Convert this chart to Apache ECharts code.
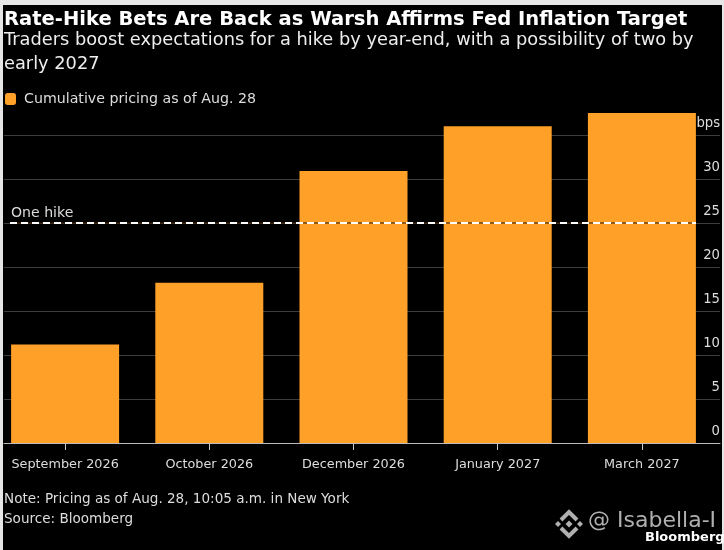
<!DOCTYPE html>
<html><head><meta charset="utf-8">
<style>html,body{margin:0;padding:0;background:#000}#c{width:724px;height:550px}</style>
<script src="https://cdn.jsdelivr.net/npm/echarts@6/dist/echarts.min.js"></script>
</head><body><div id="c"></div>
<script>
const categories = ["September 2026","October 2026","December 2026","January 2027","March 2027"];
const pricing = [11.2,18.2,30.9,36,37.5];
const oneHike = 25;
const yTicks = {0:"0",5:"5",10:"10",15:"15",20:"20",25:"25",30:"30",35:"bps"};
const title = "Rate-Hike Bets Are Back as Warsh Affirms Fed Inflation Target";
const subtitle = "Traders boost expectations for a hike by year-end, with a possibility of two by\nearly 2027";
const seriesName = "Cumulative pricing as of Aug. 28";
const note = "Note: Pricing as of Aug. 28, 10:05 a.m. in New York\nSource: Bloomberg";
const watermark = "@ Isabella-I";
const brand = "Bloomberg";
const font = "'DejaVu Sans'";
const logoGray = '#b0b0b0';
const diamond = (cx,cy,r)=>({type:'polygon',shape:{points:[[cx-r,cy],[cx,cy-r],[cx+r,cy],[cx,cy+r]]},style:{fill:logoGray},silent:true,z:20});
const chevron = (cx,cy,s)=>({type:'polyline',shape:{points:[[cx-8,cy+s*8],[cx,cy],[cx+8,cy+s*8]]},style:{stroke:logoGray,lineWidth:4,fill:'none'},silent:true,z:20});
const chart = echarts.init(document.getElementById('c'),null,{renderer:'canvas'});
chart.setOption({
  backgroundColor:'#000',animation:false,
  title:[
    {text:title,left:4,top:9,padding:0,textStyle:{color:'#fff',fontFamily:font,fontWeight:'bold',fontSize:19.55,lineHeight:22}},
    {text:subtitle,left:4,top:28,padding:0,textStyle:{color:'#eee',fontFamily:font,fontWeight:'normal',fontSize:17.8,lineHeight:24}},
    {text:note,left:4,top:489,padding:0,textStyle:{color:'#ddd',fontFamily:font,fontWeight:'normal',fontSize:13.55,lineHeight:20}}
  ],
  legend:{left:0,top:87,icon:'roundRect',itemWidth:11,itemHeight:12,data:[seriesName],
    textStyle:{color:'#ddd',fontFamily:font,fontSize:14.2,padding:[0,0,0,3]}},
  grid:[
    {left:-7,right:10,top:113,bottom:107,outerBoundsMode:'none'},
    {left:4,right:4,top:113,bottom:107,outerBoundsMode:'none'},
    {left:10,right:28,top:113,bottom:107,outerBoundsMode:'none'}
  ],
  xAxis:[
    {gridIndex:0,type:'category',data:categories,
      axisLine:{show:false},
      axisTick:{show:true,alignWithLabel:true,length:7,lineStyle:{color:'#ccc',width:1}},
      axisLabel:{color:'#ddd',fontFamily:font,fontSize:12.8,margin:15,interval:0},splitLine:{show:false}},
    {gridIndex:1,type:'value',min:0,max:1,axisLine:{show:true,onZero:true,lineStyle:{color:'#bbb',width:1}},
      axisTick:{show:false},axisLabel:{show:false},splitLine:{show:false}},
    {gridIndex:2,type:'value',min:0,max:1,show:false}
  ],
  yAxis:[
    {gridIndex:0,type:'value',min:0,max:37.5,interval:5,show:false},
    {gridIndex:1,type:'value',position:'right',min:0,max:37.5,interval:5,
      axisLine:{show:false},axisTick:{show:false},
      axisLabel:{inside:true,color:'#ddd',fontFamily:font,fontSize:13.2,verticalAlign:'bottom',align:'right',margin:0,padding:[0,0,5,0],
        formatter:v=>yTicks[v]??''},
      splitLine:{show:true,showMaxLine:false,lineStyle:{color:'#3c3c3c',width:1}}},
    {gridIndex:2,type:'value',min:0,max:37.5,interval:5,show:false}
  ],
  series:[
    {name:seriesName,type:'bar',xAxisIndex:0,yAxisIndex:0,data:pricing,barWidth:108,
     itemStyle:{color:'#ffa029'},z:3},
    {name:'One hike',type:'line',xAxisIndex:2,yAxisIndex:2,data:[],z:5,
     markLine:{symbol:'none',silent:true,z:5,animation:false,
      data:[
        {yAxis:oneHike,lineStyle:{color:'rgba(60,30,0,0.55)',type:'solid',width:2},label:{show:false}},
        {yAxis:oneHike,lineStyle:{color:'#fff',type:[7,4],width:2},
         label:{show:true,position:'insideStartTop',formatter:'One hike',color:'#ddd',fontFamily:font,fontSize:14.1,distance:[1,3]}}
      ]}}
  ],
  graphic:[
    {type:'rect',shape:{x:0,y:0,width:724,height:5},style:{fill:'#e6e6e6'},silent:true,z:30},
    {type:'rect',shape:{x:0,y:0,width:3,height:550},style:{fill:'#e6e6e6'},silent:true,z:30},
    {type:'rect',shape:{x:722,y:0,width:2,height:550},style:{fill:'#e6e6e6'},silent:true,z:30},
    diamond(569,524,3.5),diamond(558,524,3),diamond(580,524,3),
    chevron(569,512,1),chevron(569,536,-1),
    {type:'text',x:588,y:510,style:{text:watermark,fill:logoGray,fontFamily:font,fontSize:22},silent:true,z:20},
    {type:'text',x:645,y:531,style:{text:brand,fill:'#fff',fontFamily:font,fontWeight:'bold',fontSize:13},silent:true,z:31}
  ]
});
</script></body></html>
